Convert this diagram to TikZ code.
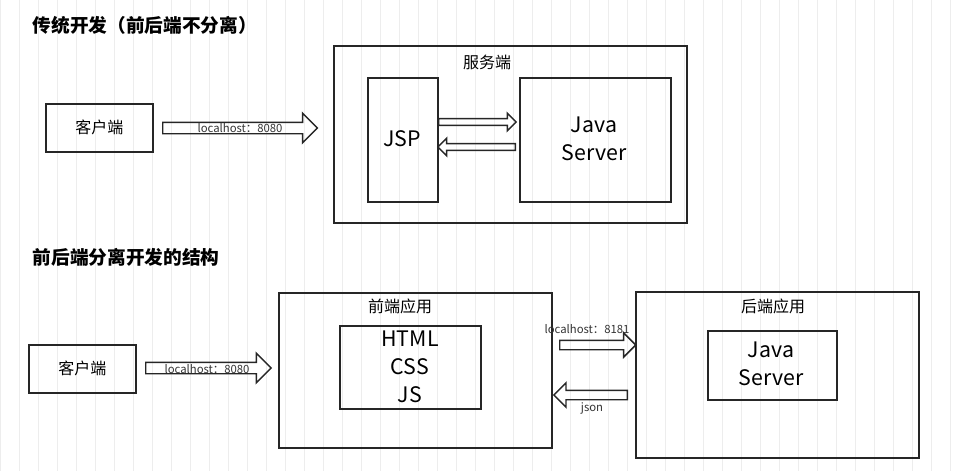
\documentclass[tikz,border=0pt]{standalone}
\usepackage{fontspec}
\setmainfont{Noto Sans CJK SC}
\usetikzlibrary{shapes.arrows}
\tikzset{
  box/.style={draw=black!85,line width=1.2pt,anchor=north west,inner sep=0pt},
  fat/.style 2 args={single arrow,draw=black!85,line width=1.1pt,inner sep=#1,
    single arrow head extend=#2,minimum height=0pt,anchor=tail},
  lbl/.style={font=\fontsize{8.5}{9}\selectfont,text=black!80},
  txt/.style={font=\fontsize{12}{14}\selectfont},
  big/.style={font=\fontsize{16}{21}\selectfont,align=center},
}
\begin{document}
\begin{tikzpicture}[x=0.75pt,y=-0.75pt]
\useasboundingbox (0,0) rectangle (965,471);
\draw[black!7,line width=0.4pt] (0,0) grid[step=19] (965,471);
\node[anchor=west,font=\bfseries\fontsize{14}{16}\selectfont] (t1) at (28,25) {传统开发（前后端不分离）};
\node[anchor=west,font=\bfseries\fontsize{14}{16}\selectfont] (t2) at (28,257) {前后端分离开发的结构};
% 传统
\node[box,minimum width=80.25pt,minimum height=36pt] (c1) at (45,103) {};
\node[txt] at (c1.center) {客户端};
\node[fat={3.75pt}{6.75pt},minimum height=116pt] (a1) at (162,128) {};
\node[lbl] at (240,128) {localhost：8080};
\node[box,minimum width=264.75pt,minimum height=132.75pt] (s1) at (333,45) {};
\node[txt] at (487,62) {服务端};
\node[box,minimum width=52.5pt,minimum height=93pt] (jsp) at (367,77) {};
\node[big] at (402,139) {JSP};
\node[box,minimum width=113.25pt,minimum height=93pt] (js1) at (519,77) {};
\node[big] at (594,139) {Java\\Server};
\node[fat={2pt}{4pt},minimum height=58pt] (r1) at (438,122) {};
\node[fat={2pt}{4pt},minimum height=58pt,shape border rotate=180,anchor=tail] (l1) at (516,147) {};
% 分离
\node[box,minimum width=80.25pt,minimum height=36pt] (c2) at (28,344) {};
\node[txt] at (c2.center) {客户端};
\node[fat={3.75pt}{6.75pt},minimum height=94pt] (a2) at (145,368) {};
\node[lbl] at (207,369) {localhost：8080};
\node[box,minimum width=204.75pt,minimum height=116.25pt] (fe) at (278,292) {};
\node[txt] at (400,306) {前端应用};
\node[box,minimum width=105.75pt,minimum height=62.25pt] (html) at (339,325) {};
\node[big,font=\fontsize{16}{21}\selectfont] at (410,367) {HTML\\CSS\\JS};
\node[box,minimum width=212.25pt,minimum height=124.5pt] (be) at (635,291) {};
\node[txt] at (773,306) {后端应用};
\node[box,minimum width=96.75pt,minimum height=51.75pt] (js2) at (707,330) {};
\node[big] at (771,364) {Java\\Server};
\node[fat={3pt}{5.5pt},minimum height=57pt] (r2) at (559,345) {};
\node[lbl] at (587,329) {localhost：8181};
\node[fat={3pt}{5.5pt},minimum height=55pt,shape border rotate=180,anchor=tail] (l2) at (628,395) {};
\node[lbl] at (592,408) {json};
\end{tikzpicture}
\end{document}
